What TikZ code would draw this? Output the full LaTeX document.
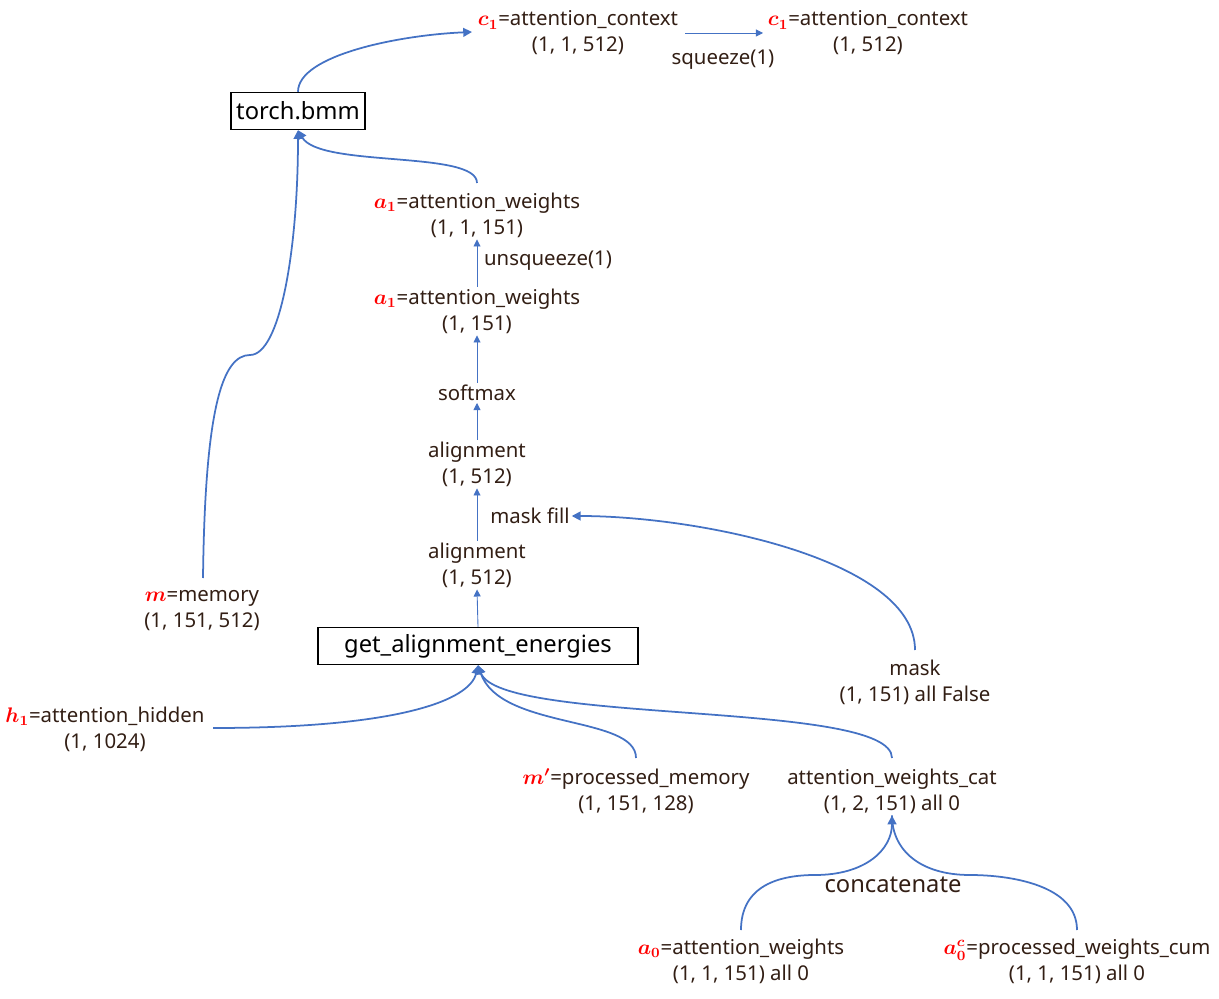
\documentclass[tikz,border=0pt]{standalone}
\usepackage{fontspec}
\setmainfont{Noto Sans}
\usetikzlibrary{arrows.meta}
\definecolor{ln}{RGB}{68,114,196}
\definecolor{tx}{RGB}{50,30,20}
\newcommand{\rv}[1]{\textcolor{red}{$\boldsymbol{#1}$}}
\usepackage{amsmath}
\begin{document}
\begin{tikzpicture}[x=0.02cm,y=-0.02cm,
  t/.style={align=center,font=\fontsize{11.6}{14.8}\selectfont,text=tx,inner sep=1pt},
  bx/.style={draw=black,thick,minimum height=0.74cm,font=\fontsize{13.5}{16}\selectfont,inner sep=2pt},
  c/.style={draw=ln,line width=1pt,-{Triangle[length=5pt,width=5pt]}},
  s/.style={draw=ln,line width=0.5pt,-{Triangle[length=4pt,width=4pt]}}]
\useasboundingbox (0,0) rectangle (1219,999);
\node[t] (c1) at (578,33) {\rv{c_1}=attention\_context\\(1, 1, 512)};
\node[t] (c2) at (868,33) {\rv{c_1}=attention\_context\\(1, 512)};
\coordinate (sqa) at (685,33); \coordinate (sqb) at (763,33);
\draw[s] (sqa) -- (sqb);
\node[t] (sq) at (723,60) {squeeze(1)};
\node[bx,minimum width=2.68cm] (bmm) at (298,111) {torch.bmm};
\node[t] (a1b) at (477,215) {\rv{a_1}=attention\_weights\\(1, 1, 151)};
\node[t] (uns) at (548,261) {unsqueeze(1)};
\node[t] (a1a) at (477,311) {\rv{a_1}=attention\_weights\\(1, 151)};
\node[t] (sm) at (477,393) {softmax};
\node[t] (al2) at (477,464) {alignment\\(1, 512)};
\node[t] (mf) at (530,516) {mask fill};
\node[t] (al1) at (477,565) {alignment\\(1, 512)};
\node[bx,minimum width=6.4cm] (gae) at (478,646) {get\_alignment\_energies};
\node[t] (mem) at (202,611) {\rv{m}=memory\\(1, 151, 512)};
\node[t] (h1) at (105,729) {\rv{h_1}=attention\_hidden\\(1, 1024)};
\node[t] (pm) at (636,791) {\rv{m'}=processed\_memory\\(1, 151, 128)};
\node[t] (awc) at (892,791) {attention\_weights\_cat\\(1, 2, 151) all 0};
\node[t] (mask) at (915,682) {mask\\(1, 151) all False};
\node[t,font=\fontsize{13.5}{16}\selectfont] (cc) at (893,885) {concatenate};
\node[t] (a0) at (741,961) {\rv{a_0}=attention\_weights\\(1, 1, 151) all 0};
\node[t] (a0c) at (1077,961) {\rv{a_0^c}=processed\_weights\_cum\\(1, 1, 151) all 0};
% straight arrows
\draw[s] (a1a.north) -- (a1b.south);
\draw[s] (sm.north) -- (a1a.south);
\draw[s] (al2.north) -- (sm.south);
\draw[s] (al1.north) -- (al2.south);
\draw[s] (gae.north) -- (al1.south);
% curves
\draw[c] (bmm.north) .. controls (298,55) and (400,35) .. (472,32);
\draw[c] (203,578) .. controls (205,410) and (222,355) .. (250,355) .. controls (280,355) and (298,250) .. (bmm.south);
\draw[c] (477,183) .. controls (477,150) and (320,168) .. (bmm.south);
\draw[c] (915,650) .. controls (915,560) and (700,516) .. (mf.east);
\draw[c] (213,728) .. controls (400,728) and (470,700) .. (gae.south);
\draw[c] (636,758) .. controls (636,715) and (500,730) .. (gae.south);
\draw[c] (892,758) .. controls (892,700) and (500,725) .. (gae.south);
\draw[c] (741,930) .. controls (741,885) and (780,875) .. (815,875) .. controls (865,875) and (892,850) .. (awc.south);
\draw[draw=ln,line width=1pt] (1077,930) .. controls (1077,885) and (1010,875) .. (970,875) .. controls (920,875) and (892,850) .. (awc.south);
\end{tikzpicture}
\end{document}
